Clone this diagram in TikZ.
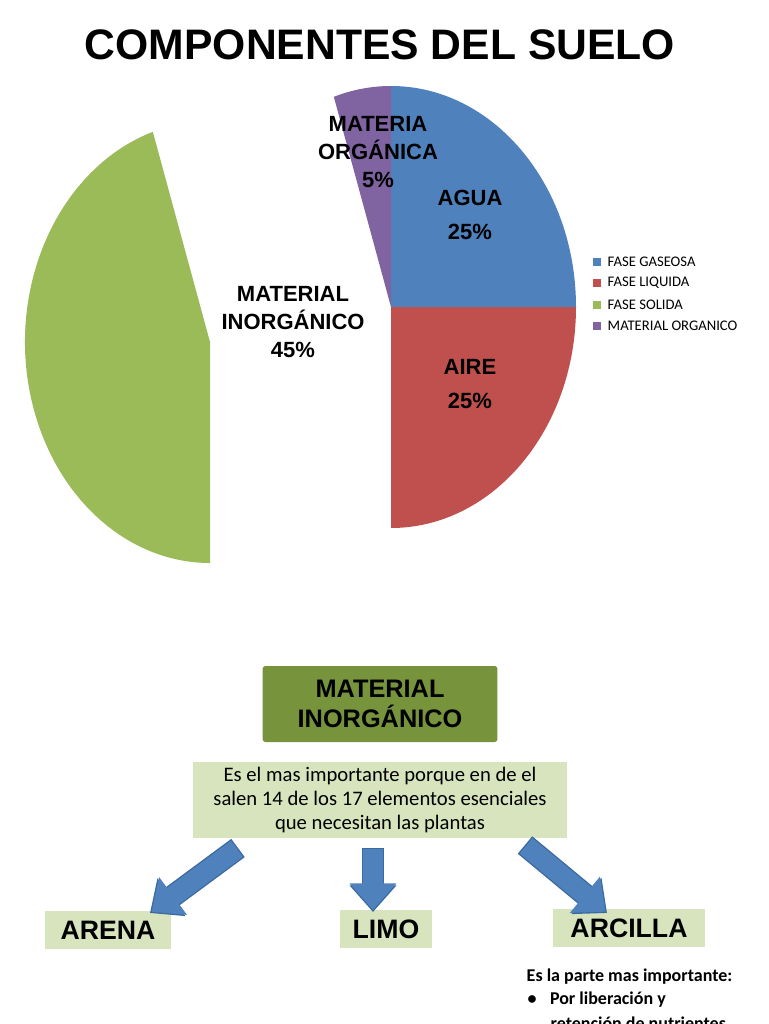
\documentclass[tikz,border=0pt]{standalone}
\usepackage{fontspec}
\setmainfont{Liberation Sans}
\newfontfamily\calfont{Carlito}
\usetikzlibrary{arrows.meta}
\definecolor{cb}{HTML}{4F81BD}\definecolor{cr}{HTML}{C0504D}
\definecolor{cg}{HTML}{9BBB59}\definecolor{cp}{HTML}{8064A2}
\definecolor{dg}{HTML}{77933C}\definecolor{lg}{HTML}{D7E4BD}
\definecolor{ab}{HTML}{3A6A9E}
\tikzset{lab/.style={font=\bfseries\fontsize{16.5}{19}\selectfont,align=center},
 lbox/.style={fill=lg,minimum height=29pt,font=\bfseries\fontsize{20}{22}\selectfont},
 leg/.style={anchor=west,font=\calfont\fontsize{11}{12}\selectfont},
 arr/.style={line width=15pt,-{Triangle[width=34pt,length=20pt]}},
 btxt/.style={anchor=west,font=\calfont\bfseries\fontsize{13.5}{16}\selectfont}}
\begin{document}
\begin{tikzpicture}[x=0.75pt,y=-0.75pt]
\useasboundingbox (0,0) rectangle (768,1024);
\clip (0,0) rectangle (768,1024);
\node[font=\bfseries\fontsize{32}{36}\selectfont] (title) at (380,45) {COMPONENTES DEL SUELO};
% pie
\fill[cb] (391,307) -- (391,86) arc[start angle=90,end angle=0,x radius=185,y radius=-221] -- cycle;
\fill[cr] (391,307) -- (576,307) arc[start angle=0,end angle=-90,x radius=185,y radius=-221] -- cycle;
\fill[cp] (391,307) -- (391,86) arc[start angle=90,end angle=108,x radius=185,y radius=-221] -- cycle;
\fill[cg] (210,342) -- ++(108:185 and -221) arc[start angle=108,end angle=270,x radius=185,y radius=-221] -- cycle;
\node[lab] (mo) at (378,152) {MATERIA\\[2pt]ORGÁNICA\\[2pt]5\%};
\node[lab] (ag) at (470,215) {AGUA\\[7pt]25\%};
\node[lab] (ai) at (470,384) {AIRE\\[7pt]25\%};
\node[lab] (mi) at (293,322) {MATERIAL\\[2pt]INORGÁNICO\\[2pt]45\%};
% legend
\foreach \c/\t/\y/\n in {cb/FASE GASEOSA/262/l1,cr/FASE LIQUIDA/283/l2,cg/FASE SOLIDA/305/l3,cp/MATERIAL ORGANICO/326/l4}{
 \fill[\c] (593,\y-4) rectangle (601,\y+4);
 \node[leg] (\n) at (603,\y) {\t};}
% lower part
\node[fill=dg,rounded corners=2pt,minimum width=176pt,minimum height=57pt,align=center,font=\bfseries\fontsize{19}{22}\selectfont] (mat) at (380,704) {MATERIAL\\INORGÁNICO};
\node[fill=lg,minimum width=280pt,minimum height=57pt,align=center,font=\calfont\fontsize{15.5}{18}\selectfont] (desc) at (380,800) {Es el mas importante porque en de el\\salen 14 de los 17 elementos esenciales\\que necesitan las plantas};
\node[lbox,minimum width=95pt] (arena) at (108,930) {\raisebox{-3pt}{ARENA}};
\node[lbox,minimum width=69pt] (limo) at (386,929) {LIMO};
\node[lbox,minimum width=114pt] (arcilla) at (629,928) {ARCILLA};
\coordinate (a1) at (238,848); \coordinate (b1) at (150,913);
\coordinate (a2) at (373,848); \coordinate (b2) at (373,912);
\coordinate (a3) at (525,845); \coordinate (b3) at (607,913);
\foreach \i in {1,2,3}{
 \draw[arr,ab,line width=17pt] (a\i) -- (b\i);
 \draw[arr,cb,shorten >=1.5pt,shorten <=1pt] (a\i) -- (b\i);}
\node[btxt] (t1) at (522,977) {Es la parte mas importante:};
\node[btxt] (t2) at (523,1000) {•\hspace{10pt}Por liberación y};
\node[btxt] (t3) at (546,1023) {retención de nutrientes};
\end{tikzpicture}
\end{document}
